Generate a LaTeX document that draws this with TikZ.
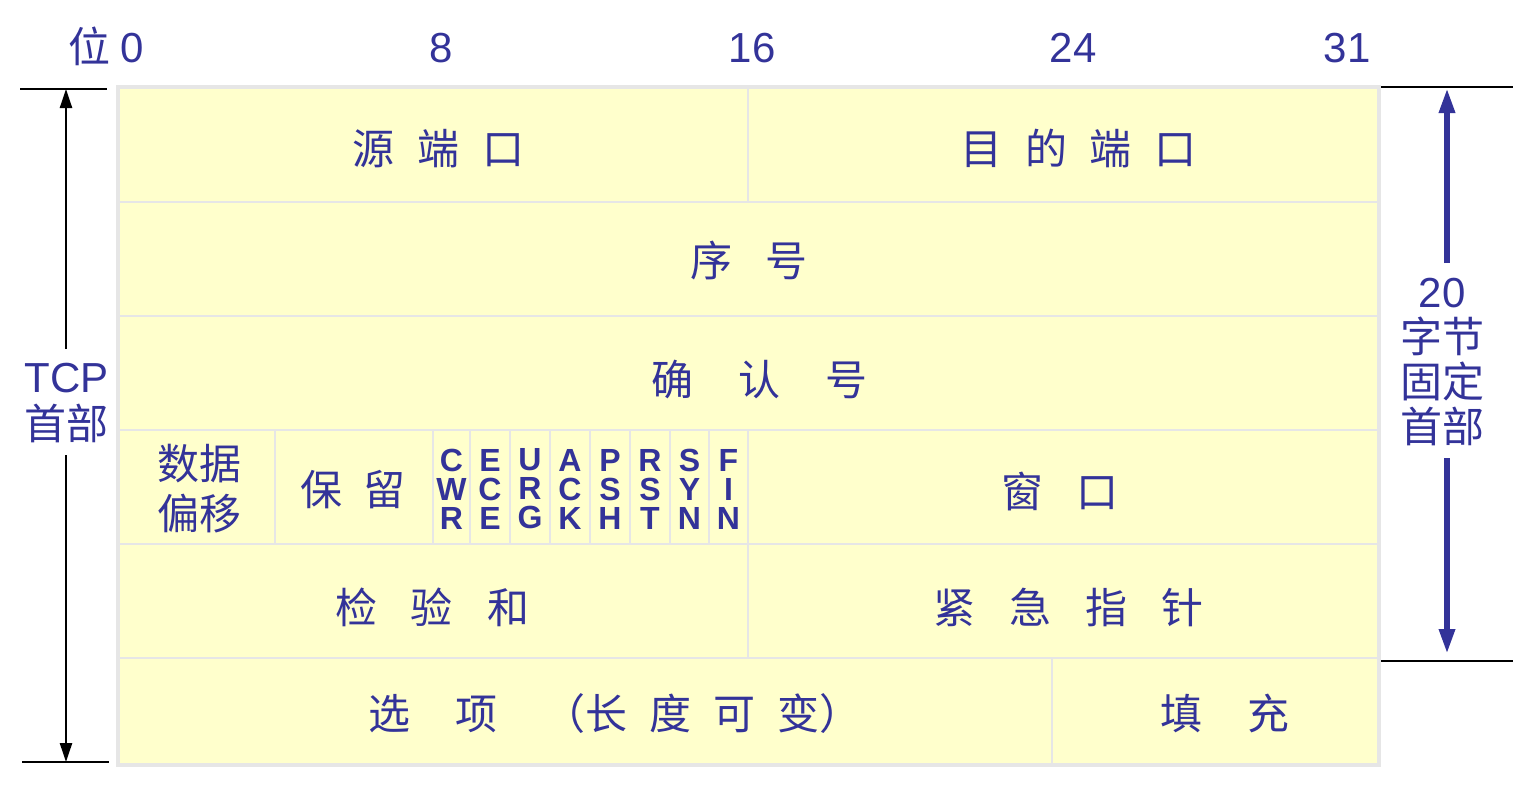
\documentclass[tikz,border=0pt]{standalone}
\usepackage{fontspec}
\setmainfont{Liberation Sans}
\newfontfamily\cjk{Noto Sans CJK SC}
\usetikzlibrary{arrows.meta}
\definecolor{cellyellow}{HTML}{FFFFCC}
\definecolor{txtblue}{HTML}{333399}
\definecolor{framegray}{HTML}{E6E6E6}
\begin{document}
\begin{tikzpicture}[x=0.5pt,y=-0.5pt,
  lbl/.style={text=txtblue, font=\cjk\fontsize{21}{25}\selectfont, inner sep=0pt, anchor=base},
  num/.style={text=txtblue, font=\fontsize{21}{25}\selectfont, inner sep=0pt, anchor=base},
  flagtxt/.style={text=txtblue, font=\bfseries\fontsize{16}{14.5}\selectfont, inner sep=0pt, align=center, anchor=center},
  divider/.style={draw=framegray, line width=1pt},
  tickline/.style={draw=black, line width=1pt},
  larrow/.style={draw=black, line width=1.2pt, -{Triangle[length=9.5pt,width=6pt]}},
  rarrow/.style={draw=txtblue, line width=3pt, -{Triangle[length=12.5pt,width=7.5pt]}},
  sidelbl/.style={text=txtblue, font=\fontsize{21}{23.5}\selectfont, inner sep=0pt, align=center, anchor=center}
]
\useasboundingbox (0,0) rectangle (1513,784);
% frame and cells
\fill[framegray] (116,85) rectangle (1381,767);
\fill[cellyellow] (120,89) rectangle (1377,763);
\foreach \yy in {202,316,430,544,658} \draw[divider] (120,\yy) -- (1377,\yy);
\draw[divider] (748,89) -- (748,202);
\draw[divider] (748,430) -- (748,658);
\foreach \xx in {275,433,470,510,550,590,630,670,709} \draw[divider] (\xx,430) -- (\xx,544);
\draw[divider] (1052,658) -- (1052,763);
% bit header
\node[lbl] (wei) at (89,62) {位};
\node[num] (b0) at (132,62) {0};
\node[num] (b8) at (441,62) {8};
\node[num] (b16) at (752,62) {16};
\node[num] (b24) at (1073,62) {24};
\node[num] (b31) at (1347,62) {31};
% field labels
\node[lbl] (src) at (438.5,164) {源\hspace{11.5pt}端\hspace{11.5pt}口};
\node[lbl] (dst) at (1078.5,164) {目\hspace{11.25pt}的\hspace{11.25pt}端\hspace{11.25pt}口};
\node[lbl] (seq) at (749,276) {序\hspace{17pt}号};
\node[lbl] (ack) at (759.5,395) {确\hspace{22.5pt}认\hspace{22.5pt}号};
\node[lbl, anchor=center, align=center, font=\cjk\fontsize{21}{25}\selectfont] (off) at (199,488.5) {数据\\偏移};
\node[lbl] (rsv) at (353,505) {保\hspace{11pt}留};
\node[flagtxt] (cwr) at (451.5,489) {C\\W\\R};
\node[flagtxt] (ece) at (490,489) {E\\C\\E};
\node[flagtxt] (urg) at (530,489) {U\\R\\G};
\node[flagtxt] (ackf) at (570,489) {A\\C\\K};
\node[flagtxt] (psh) at (610,489) {P\\S\\H};
\node[flagtxt] (rst) at (650,489) {R\\S\\T};
\node[flagtxt] (syn) at (689.5,489) {S\\Y\\N};
\node[flagtxt] (fin) at (728.5,489) {F\\I\\N};
\node[lbl] (win) at (1060,507) {窗\hspace{17pt}口};
\node[lbl] (chk) at (432,623) {检\hspace{17pt}验\hspace{17pt}和};
\node[lbl] (urgp) at (1068.5,623) {紧\hspace{17pt}急\hspace{17pt}指\hspace{17pt}针};
\node[lbl, anchor=base west] (opt) at (368,729) {选\hspace{22.5pt}项\hspace{23pt}（长\hspace{11pt}度\hspace{11pt}可\hspace{11pt}变）};
\node[lbl] (pad) at (1224.5,729) {填\hspace{22.5pt}充};
% left dimension
\node[sidelbl] (tcp) at (67,402.5) {TCP\\{\cjk 首部}};
\coordinate (ltop) at (66,89);
\coordinate (lbot) at (66,762);
\coordinate (lgt) at (66,349);
\coordinate (lgb) at (66,455);
\draw[tickline] (20,89) -- (107,89);
\draw[tickline] (22,762) -- (109,762);
\draw[larrow] (lgt) -- (ltop);
\draw[larrow] (lgb) -- (lbot);
% right dimension
\node[sidelbl, font=\fontsize{21}{22.5}\selectfont] (fix) at (1442,361.5) {20\\{\cjk 字节}\\{\cjk 固定}\\{\cjk 首部}};
\coordinate (rtop) at (1447,88);
\coordinate (rbot) at (1447,654);
\coordinate (rgt) at (1447,263);
\coordinate (rgb) at (1447,458);
\draw[tickline] (1381,87) -- (1513,87);
\draw[tickline] (1381,661) -- (1513,661);
\draw[rarrow] (rgt) -- (rtop);
\draw[rarrow] (rgb) -- (rbot);
\end{tikzpicture}
\end{document}
